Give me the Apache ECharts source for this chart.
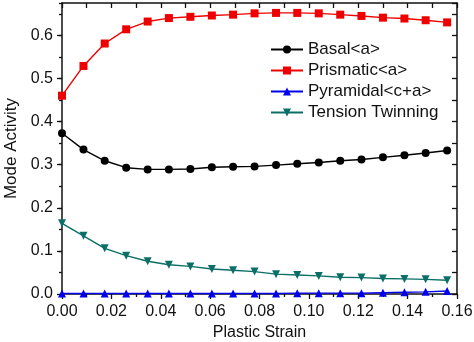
<!DOCTYPE html>
<html><head><meta charset="utf-8">
<script src="https://cdn.jsdelivr.net/npm/echarts@6/dist/echarts.min.js"></script>
<style>html,body{margin:0;padding:0;background:#fff}#c{width:474px;height:342px}</style>
</head><body><div id="c"></div>
<script>
const strain = [0, 0.0087, 0.0173, 0.026, 0.0347, 0.0433, 0.052, 0.0607, 0.0693, 0.078, 0.0867, 0.0953, 0.104, 0.1127, 0.1213, 0.13, 0.1387, 0.1473, 0.156];
const basal = [0.373, 0.335, 0.309, 0.293, 0.289, 0.289, 0.290, 0.294, 0.295, 0.296, 0.299, 0.302, 0.305, 0.309, 0.312, 0.317, 0.322, 0.327, 0.333];
const prismatic = [0.460, 0.529, 0.581, 0.614, 0.632, 0.640, 0.643, 0.646, 0.648, 0.651, 0.652, 0.652, 0.651, 0.648, 0.645, 0.641, 0.639, 0.635, 0.630];
const pyramidal = [0.001, 0.001, 0.001, 0.001, 0.001, 0.001, 0.001, 0.001, 0.001, 0.001, 0.001, 0.002, 0.002, 0.002, 0.002, 0.003, 0.004, 0.005, 0.007];
const twinning = [0.164, 0.135, 0.106, 0.089, 0.076, 0.068, 0.064, 0.058, 0.055, 0.052, 0.046, 0.044, 0.042, 0.039, 0.038, 0.036, 0.035, 0.034, 0.032];
const names = ['Basal<a>', 'Prismatic<a>', 'Pyramidal<c+a>', 'Tension Twinning'];
const xTicks = ['0.00','0.02','0.04','0.06','0.08','0.10','0.12','0.14','0.16'];
const yTicks = ['0.0','0.1','0.2','0.3','0.4','0.5','0.6'];

const FONT = 'Liberation Sans, Arial, sans-serif';
const pair = (ys) => strain.map((x, i) => [x, ys[i]]);
const axisLine = {show: true, onZero: false, lineStyle: {color: '#111', width: 1.5}};
const fmtX = v => { const s = v.toFixed(2); return xTicks.includes(s) ? s : ''; };
const fmtY = v => { const s = v.toFixed(1); return (Math.abs(v * 10 - Math.round(v * 10)) < 1e-6 && yTicks.includes(s)) ? s : ''; };

const chart = echarts.init(document.getElementById('c'), null, {renderer: 'canvas'});
function mk(name, data, color, symbol, size, rot) {
  return {
    name, type: 'line', data: pair(data), xAxisIndex: 0, yAxisIndex: 0,
    symbol, symbolSize: size, symbolRotate: rot || 0, showSymbol: true,
    itemStyle: {color}, lineStyle: {color, width: 1.4}, animation: false, z: 3
  };
}
chart.setOption({
  animation: false,
  textStyle: {fontFamily: FONT},
  grid: {left: 62, right: 17, top: 3, bottom: 48, containLabel: false, outerBoundsMode: 'none'},
  legend: {
    orient: 'vertical', left: 265, top: 36, itemWidth: 32, itemHeight: 10, itemGap: 4,
    textStyle: {fontFamily: FONT, fontSize: 17, color: '#111', lineHeight: 17},
    data: names
  },
  xAxis: [
    {type: 'value', position: 'bottom', min: 0, max: 0.16, interval: 0.02,
     axisLine, splitLine: {show: false},
     axisTick: {show: true, inside: false, length: 5, lineStyle: {color: '#111', width: 1.3}},
     minorTick: {show: true, splitNumber: 2, length: 3, lineStyle: {color: '#111', width: 1.3}},
     axisLabel: {formatter: fmtX, fontSize: 16, color: '#111', margin: 10, fontFamily: FONT},
     name: 'Plastic Strain', nameLocation: 'middle', nameGap: 31,
     nameTextStyle: {fontSize: 16, color: '#111', fontFamily: FONT}},
    {type: 'value', position: 'top', min: 0, max: 0.16, interval: 0.01,
     axisLine, splitLine: {show: false},
     axisTick: {show: true, inside: true, length: 5, lineStyle: {color: '#111', width: 1.3}},
     axisLabel: {show: false}}
  ],
  yAxis: [
    {type: 'value', position: 'left', min: 0, max: 0.675, interval: 0.1,
     axisLine, splitLine: {show: false},
     axisTick: {show: true, inside: false, length: 5, lineStyle: {color: '#111', width: 1.3}},
     axisLabel: {formatter: fmtY, fontSize: 16, color: '#111', margin: 9, fontFamily: FONT, showMaxLabel: false},
     name: 'Mode Activity', nameLocation: 'middle', nameGap: 42,
     nameTextStyle: {fontSize: 17, color: '#111', fontFamily: FONT}},
    {type: 'value', position: 'left', min: 0, max: 0.675, interval: 0.05,
     axisLine: {show: false, onZero: false}, splitLine: {show: false},
     axisTick: {show: true, inside: false, length: 3, lineStyle: {color: '#111', width: 1.3}},
     axisLabel: {show: false}},
    {type: 'value', position: 'right', min: 0, max: 0.675, interval: 0.05,
     axisLine, splitLine: {show: false},
     axisTick: {show: true, inside: true, length: 5, lineStyle: {color: '#111', width: 1.3}},
     axisLabel: {show: false}}
  ],
  series: [
    mk(names[0], basal, '#000000', 'circle', 8),
    mk(names[1], prismatic, '#ee0000', 'rect', 8),
    mk(names[2], pyramidal, '#0000ee', 'triangle', 8),
    mk(names[3], twinning, '#0b6f68', 'triangle', 8, 180)
  ]
});
</script>
</body></html>
